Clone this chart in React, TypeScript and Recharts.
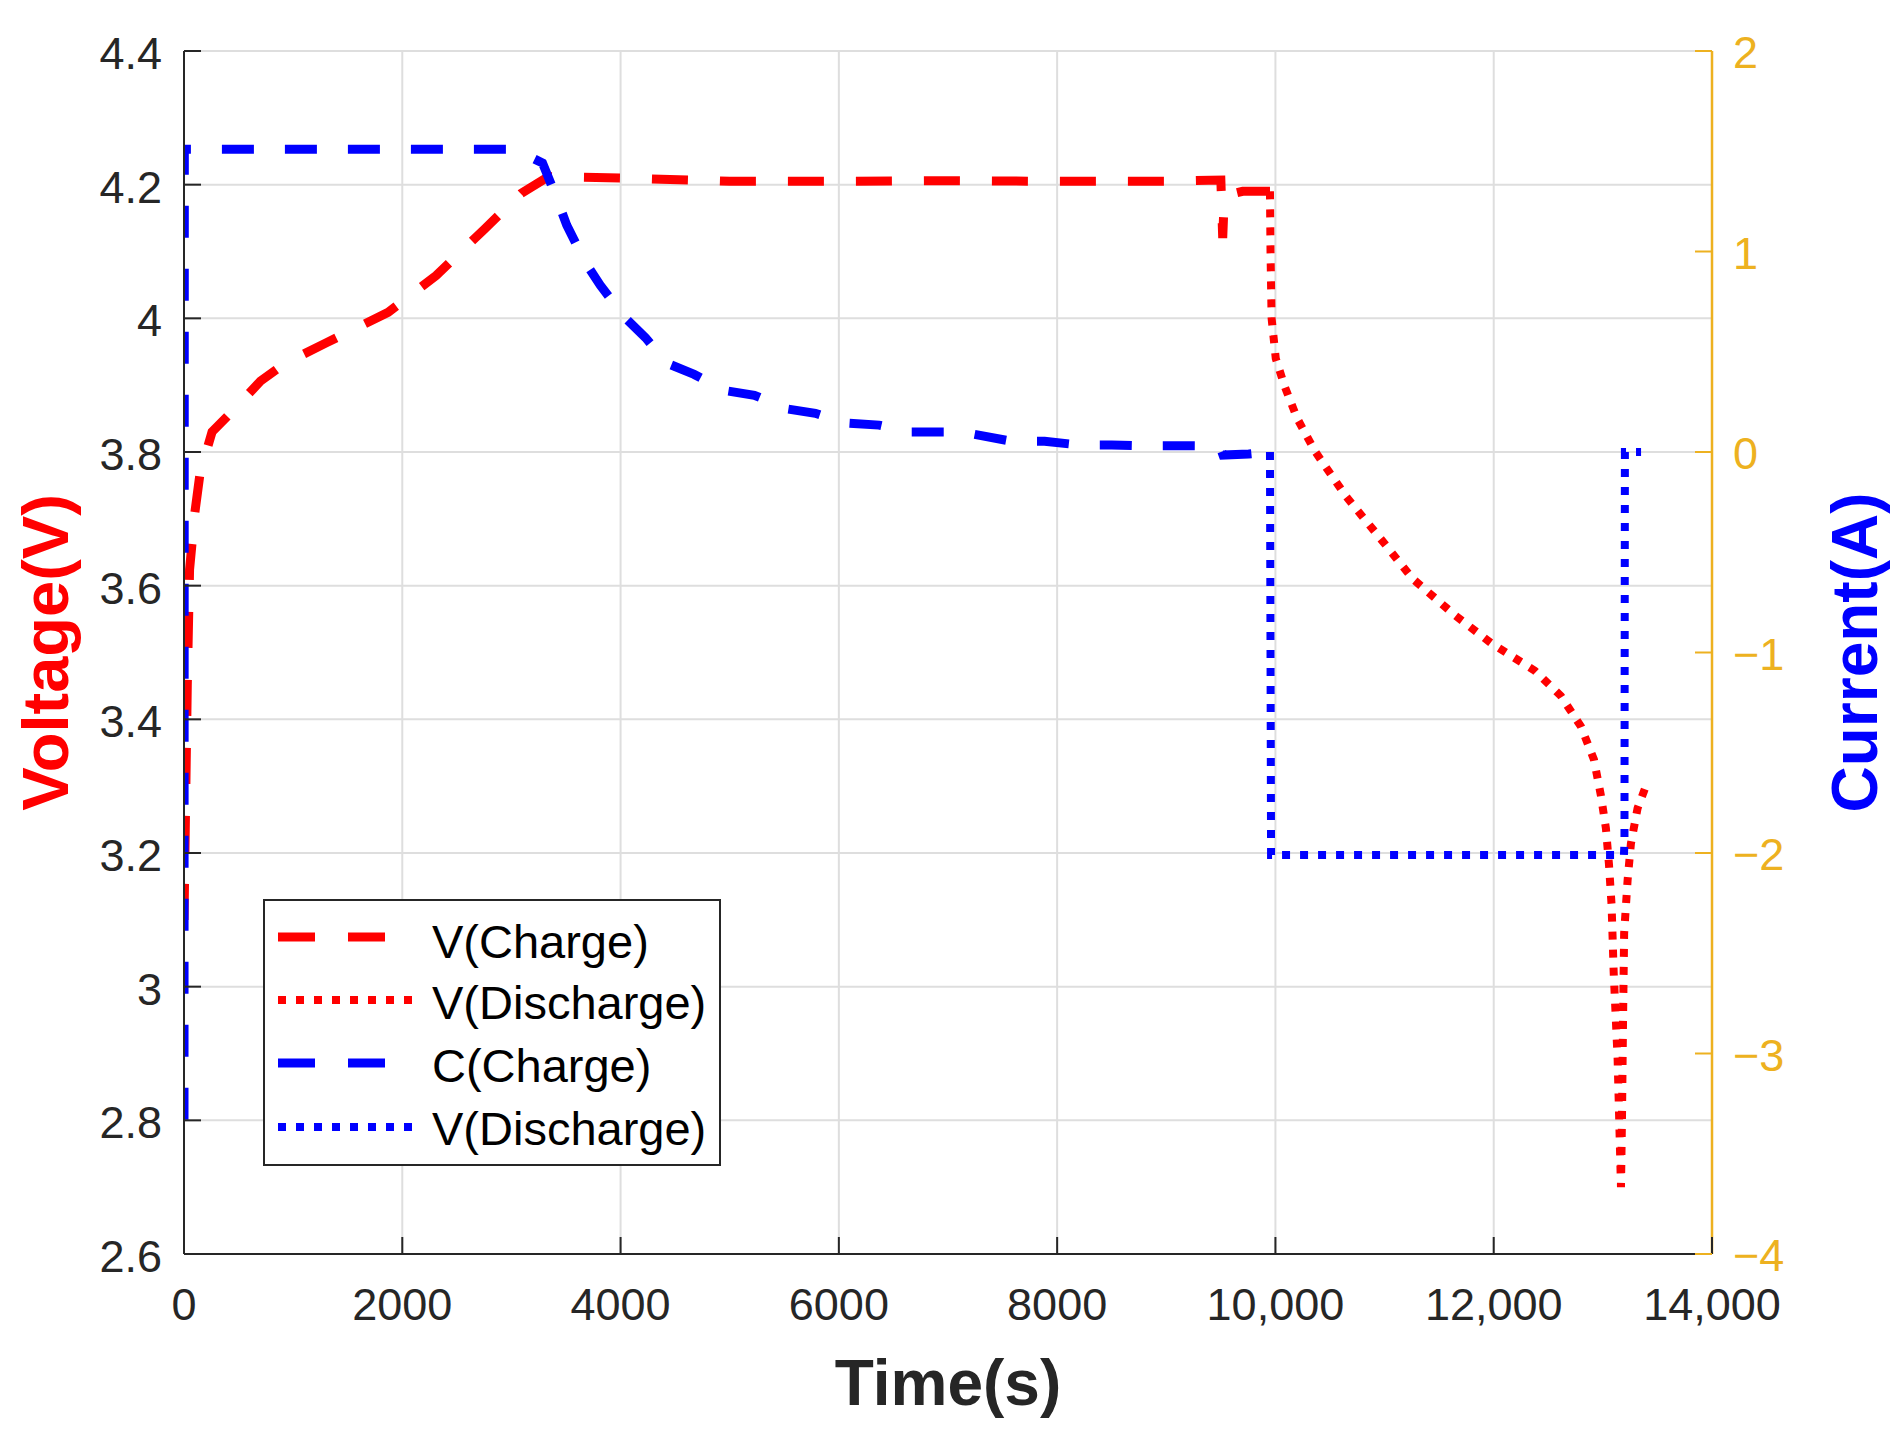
import React from 'react';
import { LineChart, Line, XAxis, YAxis, CartesianGrid, Label } from 'recharts';

// axis ticks
const timeTicks = [0, 2000, 4000, 6000, 8000, 10000, 12000, 14000];
const timeTickLabels = ['0', '2000', '4000', '6000', '8000', '10,000', '12,000', '14,000'];
const voltageTicks = [2.6, 2.8, 3, 3.2, 3.4, 3.6, 3.8, 4, 4.2, 4.4];
const voltageTickLabels = ['2.6', '2.8', '3', '3.2', '3.4', '3.6', '3.8', '4', '4.2', '4.4'];
const currentTicks = [-4, -3, -2, -1, 0, 1, 2];
const currentTickLabels = ['\u22124', '\u22123', '\u22122', '\u22121', '0', '1', '2'];

// V(Charge)
const vChargeTime = [0, 30, 51, 100, 147, 257, 450, 700, 930, 1300, 1870, 2310, 2750, 3090, 3340, 4000, 5000, 6000, 7000, 8000, 9000, 9500, 9517, 9530, 9600, 9700, 9950];
const vChargeVolt = [3.1, 3.45, 3.624, 3.71, 3.768, 3.83, 3.862, 3.906, 3.933, 3.963, 4.009, 4.064, 4.133, 4.187, 4.212, 4.21, 4.205, 4.205, 4.206, 4.205, 4.205, 4.207, 4.12, 4.175, 4.186, 4.19, 4.19];

// V(Discharge)
const vDischargeTime = [9950, 9955, 9965, 10003, 10085, 10200, 10367, 10645, 10925, 11260, 11650, 11985, 12375, 12616, 12800, 12918, 12982, 13028, 13056, 13080, 13099, 13135, 13166, 13175, 13185, 13195, 13227, 13257, 13318, 13410];
const vDischargeVolt = [4.19, 4.1, 4.0, 3.94, 3.898, 3.85, 3.8, 3.734, 3.678, 3.61, 3.555, 3.513, 3.473, 3.435, 3.389, 3.34, 3.286, 3.237, 3.183, 3.122, 3.022, 2.893, 2.7, 2.8, 2.95, 3.08, 3.16, 3.214, 3.267, 3.307];

// C(Charge)
const cChargeTime = [0, 3, 1000, 2000, 3030, 3285, 3396, 3507, 3674, 3812, 4034, 4229, 4424, 4674, 4951, 5226, 5535, 5785, 6060, 6368, 6647, 6977, 7240, 7580, 7885, 8200, 8500, 8830, 9140, 9490, 9520, 9755, 9950];
const cChargeCurr = [-3.33, 1.51, 1.51, 1.51, 1.51, 1.441, 1.292, 1.131, 0.948, 0.833, 0.673, 0.57, 0.443, 0.387, 0.307, 0.283, 0.214, 0.193, 0.145, 0.134, 0.1, 0.1, 0.088, 0.054, 0.054, 0.035, 0.035, 0.031, 0.031, 0.03, -0.015, -0.01, 0];

// current during discharge (legend says V(Discharge))
const cDischargeTime = [9950, 9960, 13193, 13198, 13202, 13350];
const cDischargeCurr = [0, -2.01, -2.01, -1.95, 0, 0];

const zip = (ts: number[], vs: number[]) => ts.map((t, i) => ({ t, v: vs[i] }));

const vChargeData = zip(vChargeTime, vChargeVolt);
const vDischargeData = zip(vDischargeTime, vDischargeVolt);
const cChargeData = zip(cChargeTime, cChargeCurr);
const cDischargeData = zip(cDischargeTime, cDischargeCurr);

const AXIS = '#262626';
const ORANGE = '#EDB120';
const RED = '#FF0000';
const BLUE = '#0000FF';
const FONT = '"Liberation Sans", Arial, Helvetica, sans-serif';

const lookup = (ticks: number[], labels: string[], v: number) => {
  const i = ticks.findIndex((t) => Math.abs(t - v) < 1e-6);
  return i >= 0 ? labels[i] : String(v);
};

const BottomTick = (p: any) => (
  <g>
    <line x1={p.x} x2={p.x} y1={p.y} y2={p.y - 17} stroke={AXIS} strokeWidth={2} />
    <text x={p.x} y={p.y + 66} textAnchor="middle" fontSize={45} fill={AXIS} fontFamily={FONT}>
      {lookup(timeTicks, timeTickLabels, p.payload.value)}
    </text>
  </g>
);

const TopTick = (p: any) => (
  <line x1={p.x} x2={p.x} y1={p.y} y2={p.y + 17} stroke={AXIS} strokeWidth={2} />
);

const LeftTick = (p: any) => (
  <g>
    <line x1={p.x} x2={p.x + 17} y1={p.y} y2={p.y} stroke={AXIS} strokeWidth={2} />
    <text x={p.x - 22} y={p.y + 18} textAnchor="end" fontSize={45} fill={AXIS} fontFamily={FONT}>
      {lookup(voltageTicks, voltageTickLabels, p.payload.value)}
    </text>
  </g>
);

const RightTick = (p: any) => (
  <g>
    <line x1={p.x - 17} x2={p.x} y1={p.y} y2={p.y} stroke={ORANGE} strokeWidth={2} />
    <text x={p.x + 21} y={p.y + 17} textAnchor="start" fontSize={45} fill={ORANGE} fontFamily={FONT}>
      {lookup(currentTicks, currentTickLabels, p.payload.value)}
    </text>
  </g>
);

const legendItems = [
  { name: 'V(Charge)', color: RED, dash: '37 33', width: 9, len: 107 },
  { name: 'V(Discharge)', color: RED, dash: '8 10', width: 8, len: 134 },
  { name: 'C(Charge)', color: BLUE, dash: '37 33', width: 9, len: 107 },
  { name: 'V(Discharge)', color: BLUE, dash: '8 10', width: 8, len: 134 },
];
const legendLineY = [937, 1000, 1063, 1127];
const legendTextY = [958, 1019, 1082, 1145];

const LegendBox = () => (
  <svg width={1903} height={1441} style={{ position: 'absolute', left: 0, top: 0, pointerEvents: 'none' }}>
    <rect x={264} y={900} width={456} height={265} fill="#fff" stroke={AXIS} strokeWidth={2} />
    {legendItems.map((it, i) => (
      <g key={i}>
        <line x1={278} x2={278 + it.len} y1={legendLineY[i]} y2={legendLineY[i]} stroke={it.color} strokeWidth={it.width} strokeDasharray={it.dash} />
        <text x={432} y={legendTextY[i]} fontSize={47} fill="#000" fontFamily={FONT}>
          {it.name}
        </text>
      </g>
    ))}
  </svg>
);

export default function App() {
  return (
    <div style={{ position: 'absolute', left: 0, top: 0, width: 1903, height: 1441, background: '#fff' }}>
      <LineChart width={1903} height={1441} margin={{ top: 51, right: 91, bottom: 127, left: 84 }} style={{ fontFamily: FONT }}>
        <CartesianGrid xAxisId="bottom" yAxisId="left" stroke="#dedede" strokeWidth={2} />
        <XAxis
          xAxisId="bottom"
          type="number"
          dataKey="t"
          domain={[0, 14000]}
          ticks={timeTicks}
          interval={0}
          allowDataOverflow
          height={60}
          tickLine={false}
          tickSize={0}
          tickMargin={0}
          axisLine={{ stroke: AXIS, strokeWidth: 2 }}
          tick={(p: any) => <BottomTick {...p} />}
        >
          <Label
            content={(p: any) => {
              const vb = p.viewBox;
              return (
                <text x={vb.x + vb.width / 2} y={vb.y + 151} textAnchor="middle" fontSize={64} fontWeight="bold" fill={AXIS} fontFamily={FONT}>
                  Time(s)
                </text>
              );
            }}
          />
        </XAxis>
        <XAxis
          xAxisId="top"
          orientation="top"
          type="number"
          dataKey="t"
          domain={[0, 14000]}
          ticks={timeTicks}
          interval={0}
          allowDataOverflow
          height={0}
          tickLine={false}
          tickSize={0}
          tickMargin={0}
          axisLine={{ stroke: AXIS, strokeWidth: 2 }}
          tick={(p: any) => <TopTick {...p} />}
        />
        <YAxis
          yAxisId="left"
          type="number"
          domain={[2.6, 4.4]}
          ticks={voltageTicks}
          interval={0}
          allowDataOverflow
          width={100}
          tickLine={false}
          tickSize={0}
          tickMargin={0}
          axisLine={{ stroke: AXIS, strokeWidth: 2 }}
          tick={(p: any) => <LeftTick {...p} />}
        >
          <Label
            content={(p: any) => {
              const vb = p.viewBox;
              const cx = vb.x - 16;
              const cy = vb.y + vb.height / 2;
              return (
                <text x={cx} y={cy} transform={`rotate(-90, ${cx}, ${cy})`} textAnchor="middle" fontSize={65} fontWeight="bold" fill={RED} fontFamily={FONT}>
                  Voltage(V)
                </text>
              );
            }}
          />
        </YAxis>
        <YAxis
          yAxisId="right"
          orientation="right"
          type="number"
          domain={[-4, 2]}
          ticks={currentTicks}
          interval={0}
          allowDataOverflow
          width={100}
          tickLine={false}
          tickSize={0}
          tickMargin={0}
          axisLine={{ stroke: ORANGE, strokeWidth: 2.5 }}
          tick={(p: any) => <RightTick {...p} />}
        >
          <Label
            content={(p: any) => {
              const vb = p.viewBox;
              const cx = vb.x + 165;
              const cy = vb.y + vb.height / 2;
              return (
                <text x={cx} y={cy} transform={`rotate(-90, ${cx}, ${cy})`} textAnchor="middle" fontSize={64} fontWeight="bold" fill={BLUE} fontFamily={FONT}>
                  Current(A)
                </text>
              );
            }}
          />
        </YAxis>
        <Line
          xAxisId="bottom"
          yAxisId="left"
          data={vChargeData}
          dataKey="v"
          name="V(Charge)"
          type="linear"
          stroke={RED}
          strokeWidth={9}
          strokeDasharray="36 32"
          dot={false}
          activeDot={false}
          isAnimationActive={false}
        />
        <Line
          xAxisId="bottom"
          yAxisId="left"
          data={vDischargeData}
          dataKey="v"
          name="V(Discharge)"
          type="linear"
          stroke={RED}
          strokeWidth={8}
          strokeDasharray="8 10"
          dot={false}
          activeDot={false}
          isAnimationActive={false}
        />
        <Line
          xAxisId="bottom"
          yAxisId="right"
          data={cChargeData}
          dataKey="v"
          name="C(Charge)"
          type="linear"
          stroke={BLUE}
          strokeWidth={9}
          strokeDasharray="32 31"
          dot={false}
          activeDot={false}
          isAnimationActive={false}
        />
        <Line
          xAxisId="bottom"
          yAxisId="right"
          data={cDischargeData}
          dataKey="v"
          name="V(Discharge)"
          type="linear"
          stroke={BLUE}
          strokeWidth={8}
          strokeDasharray="8 10"
          dot={false}
          activeDot={false}
          isAnimationActive={false}
        />
      </LineChart>
      <LegendBox />
    </div>
  );
}
